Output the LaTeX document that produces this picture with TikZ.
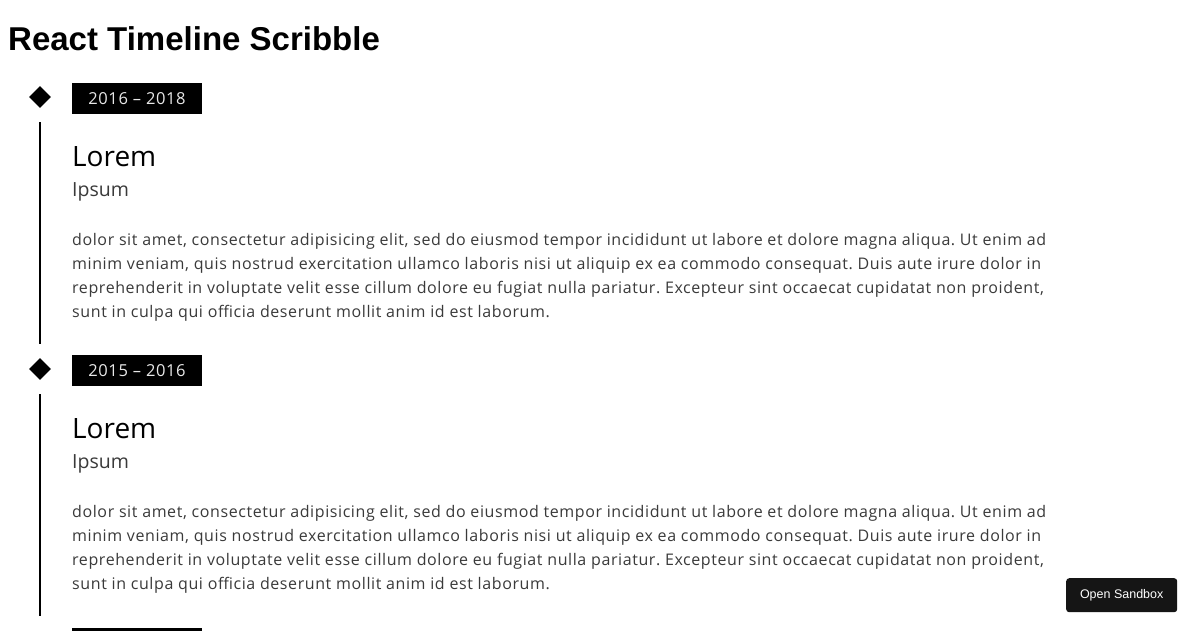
\documentclass[tikz,border=0pt]{standalone}
\usepackage{fontspec}
\setmainfont{Open Sans}[LetterSpace=3.7]
\newfontfamily\plainopen{Open Sans}
\newfontfamily\titlefont{Liberation Sans}
\usetikzlibrary{shapes.geometric}
\definecolor{bodygray}{HTML}{3A3A3A}
\definecolor{btn}{HTML}{151515}
\definecolor{datetxt}{HTML}{E8E8E8}
\tikzset{
  marker/.style={diamond, fill=black, inner sep=0pt, minimum width=22pt, minimum height=22pt},
  datebox/.style={fill=black, text=datetxt, minimum width=130pt, minimum height=31pt, inner sep=0pt, font=\fontsize{16.5}{19}\selectfont},
  heading/.style={anchor=base west, inner sep=0pt, font=\plainopen\fontsize{28}{32}\selectfont, text=black},
  subheading/.style={anchor=base west, inner sep=0pt, font=\plainopen\fontsize{19.5}{24}\selectfont, text=bodygray},
  bodyline/.style={anchor=base west, inner sep=0pt, font=\fontsize{16}{24}\selectfont, text=bodygray},
  spine/.style={line width=2.2pt, black},
}
\frenchspacing
\begin{document}
\begin{tikzpicture}[x=1pt, y=-1pt]
\useasboundingbox (0,0) rectangle (1200,630);
\fill[white] (0,0) rectangle (1200,630);
\node[anchor=base west, inner sep=0pt, font=\titlefont\bfseries\fontsize{33}{36}\selectfont] (title) at (8,50) {React Timeline Scribble};

\foreach \i/\dt in {0/{2016 – 2018}, 1/{2015 – 2016}} {
  \pgfmathsetmacro{\oy}{272*\i}
  \begin{scope}[yshift=-\oy pt]
    \node[marker] (m\i) at (40,97) {};
    \node[datebox] (d\i) at (137,98.5) {\dt};
    \coordinate (s\i) at (40,122);
    \coordinate (e\i) at (40,344);
    \draw[spine] (s\i) -- (e\i);
    \node[heading] (h\i) at (72,166) {Lorem};
    \node[subheading] (p\i) at (72,196) {Ipsum};
    \node[bodyline] (a\i) at (72,245) {dolor sit amet, consectetur adipisicing elit, sed do eiusmod tempor incididunt ut labore et dolore magna aliqua. Ut enim ad};
    \node[bodyline] (b\i) at (72,269) {minim veniam, quis nostrud exercitation ullamco laboris nisi ut aliquip ex ea commodo consequat. Duis aute irure dolor in};
    \node[bodyline] (c\i) at (72,293) {reprehenderit in voluptate velit esse cillum dolore eu fugiat nulla pariatur. Excepteur sint occaecat cupidatat non proident,};
    \node[bodyline] (f\i) at (72,317) {sunt in culpa qui officia deserunt mollit anim id est laborum.};
  \end{scope}
}
\node[fill=black, minimum width=130pt, minimum height=31pt, inner sep=0pt, anchor=north west] (d2) at (72,627.5) {};
\node[fill=btn, rounded corners=3pt, minimum width=111pt, minimum height=34pt, inner sep=0pt, anchor=north west, text=white, font=\titlefont\fontsize{12.5}{14}\selectfont] (btnode) at (1066,578) {Open Sandbox};
\end{tikzpicture}
\end{document}
